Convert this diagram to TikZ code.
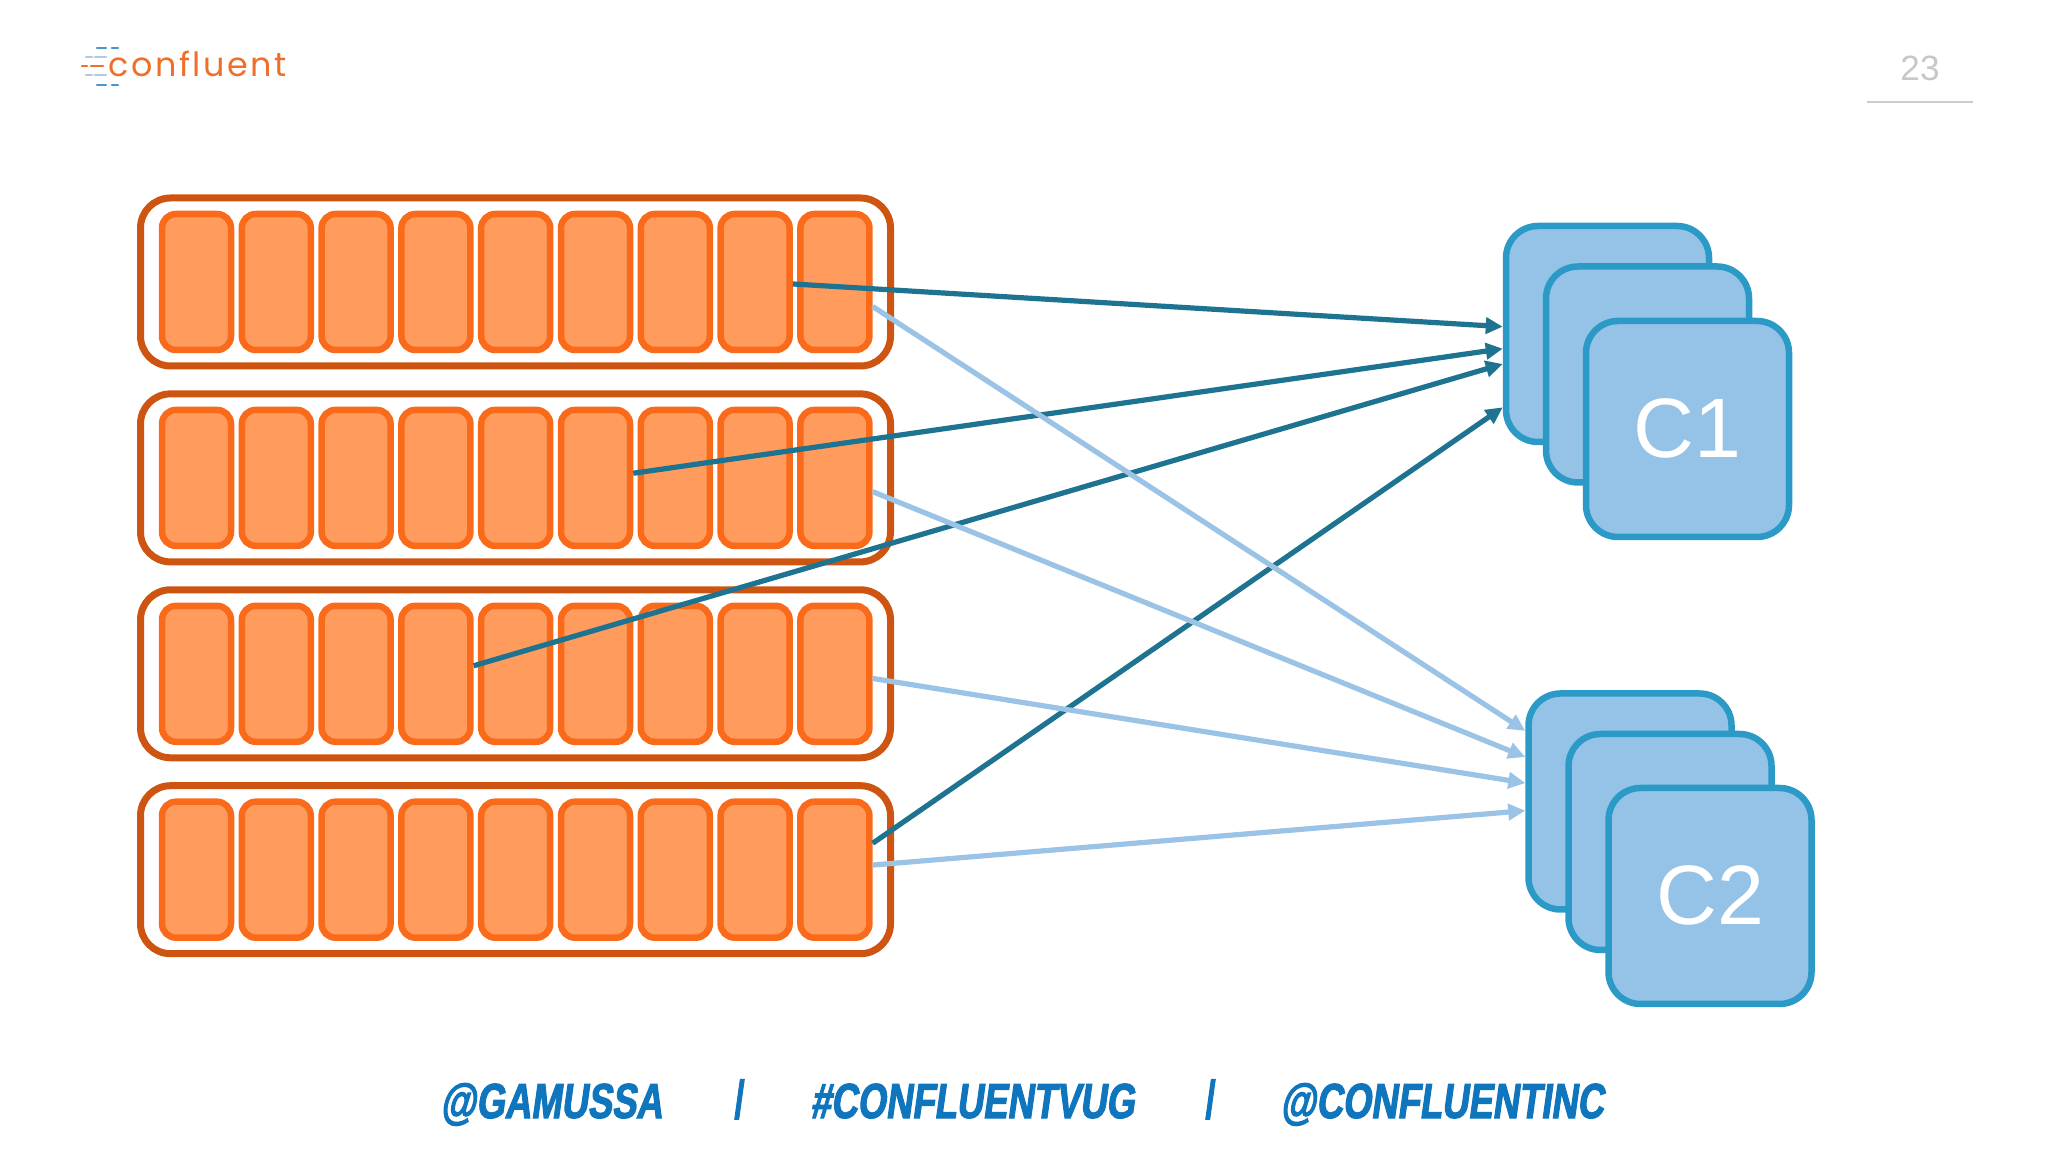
\documentclass[tikz,border=0pt]{standalone}
\usepackage{fontspec}
\setmainfont{Liberation Sans}
\newfontfamily\logofont[LetterSpace=7.5]{Poppins}
\newfontfamily\tagfont[FakeSlant=0.14,FakeStretch=0.74,FakeBold=2.2]{Liberation Sans Bold}
\usepackage{tikz}
\usetikzlibrary{arrows.meta}
\definecolor{cellfill}{HTML}{FF9B5C}
\definecolor{celldraw}{HTML}{F96B1B}
\definecolor{framedraw}{HTML}{CE5411}
\definecolor{boxfill}{HTML}{94C3E7}
\definecolor{boxdraw}{HTML}{2B9AC6}
\definecolor{darkline}{HTML}{1E7391}
\definecolor{lightline}{HTML}{9AC3E5}
\definecolor{tagblue}{HTML}{0F75BC}
\definecolor{logoorange}{HTML}{EE6E2A}
\definecolor{logoblue}{HTML}{4A95CC}
\definecolor{logopale}{HTML}{B4C8E0}

\begin{document}
\begin{tikzpicture}[x=0.1mm,y=-0.1mm]

\tikzset{framenode/.style={draw=framedraw,line width=.7mm,rounded corners=3mm,minimum width=75mm,minimum height=16.8mm,inner sep=0pt},
cellnode/.style={draw=celldraw,fill=cellfill,line width=.65mm,rounded corners=1.4mm,minimum width=6.9mm,minimum height=13.6mm,inner sep=0pt},
boxnode/.style={draw=boxdraw,fill=boxfill,line width=.65mm,rounded corners=3.2mm,minimum width=20.3mm,minimum height=21.6mm,inner sep=0pt,text=white,font=\fontsize{24}{24}\selectfont},
darkarrow/.style={darkline,line width=.52mm,-{Triangle[length=1.7mm,width=1.6mm]}},
lightarrow/.style={lightline,line width=.52mm,-{Triangle[length=1.7mm,width=1.6mm]}},
tagnode/.style={text=tagblue,font=\tagfont\fontsize{14}{14}\selectfont,inner sep=0pt},
sepnode/.style={text=tagblue,font=\tagfont\fontsize{12}{12}\selectfont,inner sep=0pt},
logodash/.style={line width=.26mm,line cap=round}}

\useasboundingbox (0,0) rectangle (2048,1152);

% Logo
\node[text=logoorange,font=\logofont\fontsize{9.5}{9.5}\selectfont,anchor=base west,inner sep=0pt] (logo) at (108,76.5) {confluent};
\foreach \y in {48,85} {\draw[logodash,logoblue] (97,\y) -- (106,\y); \draw[logodash,logoblue] (112,\y) -- (118,\y);}
\foreach \y in {57,75} {\draw[logodash,logopale] (86,\y) -- (92,\y); \draw[logodash,logopale] (95,\y) -- (106,\y);}
\draw[logodash,logoorange] (82,66) -- (87,66);
\draw[logodash,logoorange] (91,66) -- (103,66);

% Page number
\node[text=black!22,font=\fontsize{10}{10}\selectfont,inner sep=0pt] (pagenum) at (1920,68) {23};
\coordinate (ruleleft) at (1867,102);
\coordinate (ruleright) at (1973,102);
\draw[black!20,line width=.25mm] (ruleleft) -- (ruleright);

% Partitions
\foreach \r in {1,2,3,4} {
  \node[framenode] (frame\r) at (515.5,{86.1+195.9*\r}) {};
  \foreach \c in {1,...,9} \node[cellnode] (cell\r\c) at ({116.7+79.8*\c},{86.1+195.9*\r}) {};
}

% Consumers
\node[boxnode] (c1back) at (1607.5,334) {};
\node[boxnode] (c1mid) at (1647.5,374.5) {};
\node[boxnode] (c1front) at (1687.5,429) {\raisebox{.15mm}{C1}};
\node[boxnode] (c2back) at (1630,801.5) {};
\node[boxnode] (c2mid) at (1670,842) {};
\node[boxnode] (c2front) at (1710,896) {\raisebox{.15mm}{C2}};

% Arrows to C1
\draw[darkarrow] (cell18.-3) -- (c1back.176.2);
\draw[darkarrow] (cell26.7) -- (c1back.188.1);
\draw[darkarrow] (cell34.12) -- (c1back.196.4);
\draw[darkarrow] (cell49.35) -- (c1back.215.2);

% Arrows to C2
\draw[lightarrow] (cell19.-33.7) -- (c2back.146.2);
\draw[lightarrow] (cell29.-20.9) -- (c2back.157.8);
\draw[lightarrow] (cell39.-7) -- (c2back.170.4);
\draw[lightarrow] (cell49.7.6) -- (c2back.185.2);

% Footer
\node[tagnode,anchor=base west] (tagone) at (440,1118) {@GAMUSSA};
\node[sepnode,anchor=base] (sepone) at (738,1110) {|};
\node[tagnode,anchor=base west] (tagtwo) at (810,1118) {\#CONFLUENTVUG};
\node[sepnode,anchor=base] (septwo) at (1209,1110) {|};
\node[tagnode,anchor=base west] (tagthree) at (1280,1118) {@CONFLUENTINC};

\end{tikzpicture}
\end{document}
